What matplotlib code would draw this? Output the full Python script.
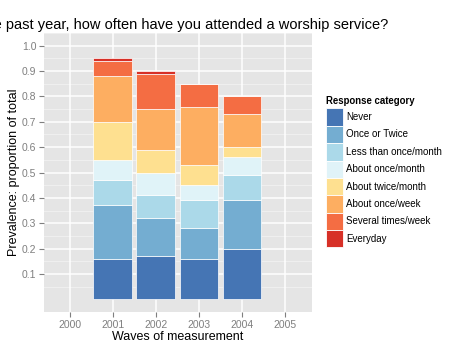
import matplotlib
matplotlib.use("Agg")
import matplotlib.pyplot as plt
import numpy as np
from matplotlib.patches import Rectangle

plt.rcParams['font.family'] = ['Liberation Sans', 'DejaVu Sans']

waves = [2001, 2002, 2003, 2004]
categories = ["Never", "Once or Twice", "Less than once/month", "About once/month",
              "About twice/month", "About once/week", "Several times/week", "Everyday"]
never        = [0.16, 0.17, 0.16, 0.20]
once_twice   = [0.21, 0.15, 0.12, 0.19]
less_month   = [0.10, 0.09, 0.11, 0.10]
once_month   = [0.08, 0.09, 0.06, 0.07]
twice_month  = [0.15, 0.09, 0.08, 0.04]
once_week    = [0.18, 0.16, 0.23, 0.13]
several_week = [0.06, 0.14, 0.09, 0.07]
everyday     = [0.01, 0.01, 0.00, 0.00]
series = [never, once_twice, less_month, once_month, twice_month, once_week, several_week, everyday]
colors = ["#4575B4", "#74ADD1", "#ABD9E9", "#E0F3F8", "#FEE090", "#FDAE61", "#F46D43", "#D73027"]
xticks = [2000, 2001, 2002, 2003, 2004, 2005]
yticks = [0.1, 0.2, 0.3, 0.4, 0.5, 0.6, 0.7, 0.8, 0.9, 1.0]

W, H = 474, 350
fig = plt.figure(figsize=(W/100, H/100), dpi=100)
ax = fig.add_axes([44/W, 1-312/H, (312-44)/W, (312-33)/H])
ax.set_facecolor("#E5E5E5")
for s in ax.spines.values():
    s.set_visible(False)

ax.set_xlim(1999.4, 2005.63)
ax.set_ylim(-0.05, 1.05)

# grid
for v in np.arange(-0.05, 1.1, 0.1):
    ax.axhline(v, color="#F2F2F2", lw=0.6, zorder=0)
for v in yticks:
    ax.axhline(v, color="white", lw=1.1, zorder=0.5)
for v in xticks:
    ax.axvline(v, color="white", lw=1.1, zorder=0.5)

bottom = np.zeros(len(waves))
for vals, c, lab in zip(series, colors, categories):
    vals = np.array(vals)
    ax.bar(waves, vals, bottom=bottom, width=0.9, color=c, edgecolor="white",
           linewidth=0.5, label=lab, zorder=2)
    bottom += vals

ax.set_xticks(xticks)
ax.set_xticklabels([str(x) for x in xticks])
ax.set_yticks(yticks)
ax.set_yticklabels([f"{v:.1f}" for v in yticks])
ax.tick_params(axis='both', colors="#7F7F7F", labelcolor="#7F7F7F", labelsize=7.5,
               length=3.5, width=0.8, pad=2)

ax.set_xlabel("Waves of measurement", fontsize=9, labelpad=1)
ax.set_ylabel("Prevalence: proportion of total", fontsize=9, labelpad=1)

fig.text(388/W, 1-28.5/H, "In the past year, how often have you attended a worship service?",
         ha='right', va='baseline', fontsize=10.5)

# legend (drawn in figure pixel coordinates)
fig.text(326/W, 1-104/H, "Response category", fontsize=6.9, fontweight='bold',
         ha='left', va='baseline')
key_top, key_h, key_x, key_w = 108.3, 17.4, 326, 17
for i, (c, lab) in enumerate(zip(colors, categories)):
    y0 = key_top + i*key_h
    fig.patches.append(Rectangle((key_x/W, 1-(y0+key_h)/H), key_w/W, key_h/H,
                                 facecolor=c, edgecolor="white", linewidth=0.6,
                                 transform=fig.transFigure, figure=fig))
    fig.text(346/W, 1-(y0+key_h/2)/H, lab, fontsize=7, ha='left', va='center')

fig.savefig("out.png", dpi=100)
